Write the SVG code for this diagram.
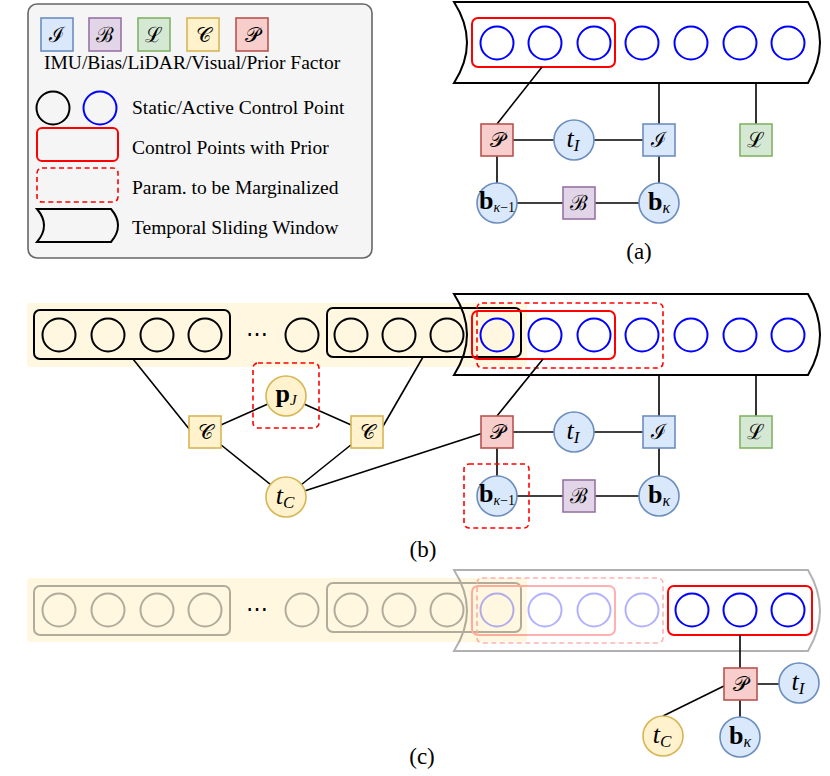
<svg xmlns="http://www.w3.org/2000/svg" width="830" height="776" viewBox="0 0 830 776">
<style>
.txt{font-family:"Liberation Serif","DejaVu Serif",serif;font-size:19.5px;fill:#000}
.math{font-family:"Liberation Serif","DejaVu Serif",serif;font-size:26px;fill:#000;text-anchor:middle}
.cal{font-family:"DejaVu Serif","Liberation Serif",serif;font-size:21px;fill:#000;text-anchor:middle}
.lab{font-family:"Liberation Serif","DejaVu Serif",serif;font-size:23px;fill:#000;text-anchor:middle}
.dots{font-family:"DejaVu Serif",serif;font-size:22px;fill:#000;text-anchor:middle}
.cb{fill:none;stroke:#000;stroke-width:2}
.ca{fill:none;stroke:#0000ff;stroke-width:2}
.prior{fill:none;stroke:#ff0000;stroke-width:2}
.marg{fill:none;stroke:#ff0000;stroke-width:1.6;stroke-dasharray:5 3.5}
.win{fill:#fff;stroke:none}
.wino{fill:none;stroke:#000;stroke-width:2}
.grp{fill:none;stroke:#000;stroke-width:2}
.band{fill:#fff2cc;opacity:0.6}
.edge{stroke:#000;stroke-width:1.6;fill:none}
.fI{fill:#dae8fc;stroke:#6c8ebf;stroke-width:1.6}
.fB{fill:#e1d5e7;stroke:#9673a6;stroke-width:1.6}
.fL{fill:#d5e8d4;stroke:#82b366;stroke-width:1.6}
.fC{fill:#fff2cc;stroke:#d6b656;stroke-width:1.6}
.fP{fill:#f8cecc;stroke:#b85450;stroke-width:1.6}
.vB{fill:#dae8fc;stroke:#6c8ebf;stroke-width:1.6}
.vY{fill:#fff2cc;stroke:#d6b656;stroke-width:1.6}
.faded{opacity:0.3}
</style>

<!-- Legend -->
<g id="legend">
  <rect x="28" y="4" width="344" height="254" rx="9" fill="#f5f5f5" stroke="#666" stroke-width="1.6"/>
  <rect class="fI" x="41" y="18" width="32" height="33"/>
  <text class="cal" x="57" y="42">ℐ</text>
  <rect class="fB" x="89" y="18" width="32" height="33"/>
  <text class="cal" x="105" y="42">ℬ</text>
  <rect class="fL" x="138" y="18" width="32" height="33"/>
  <text class="cal" x="154" y="42">ℒ</text>
  <rect class="fC" x="187" y="18" width="32" height="33"/>
  <text class="cal" x="203" y="42">𝒞</text>
  <rect class="fP" x="236" y="18" width="32" height="33"/>
  <text class="cal" x="252" y="42">𝒫</text>
  <text class="txt" x="44" y="69">IMU/Bias/LiDAR/Visual/Prior Factor</text>
  <circle class="cb" cx="53" cy="108" r="16.5"/>
  <circle class="ca" cx="100" cy="108" r="16.5"/>
  <text class="txt" x="132" y="114">Static/Active Control Point</text>
  <rect class="prior" x="37" y="128" width="81" height="33" rx="5"/>
  <text class="txt" x="132" y="154">Control Points with Prior</text>
  <rect class="marg" x="37" y="168" width="81" height="34" rx="5"/>
  <text class="txt" x="132" y="194">Param. to be Marginalized</text>
  <path class="wino" d="M37,209 L111,209 Q125,225.5 111,242 L37,242 Q51,225.5 37,209 Z"/>
  <text class="txt" x="132" y="234">Temporal Sliding Window</text>
</g>

<!-- Panel (a) window and control points -->
<g id="window-a">
  <path class="win" d="M454,2 L808,2 Q832,42.5 808,83 L454,83 Q480,42.5 454,2 Z"/>
  <path class="wino" d="M454,2 L808,2 Q832,42.5 808,83 L454,83 Q480,42.5 454,2 Z"/>
  <g id="cp-a">
    <circle class="ca" cx="497" cy="43" r="16.5"/>
    <circle class="ca" cx="545" cy="43" r="16.5"/>
    <circle class="ca" cx="594" cy="43" r="16.5"/>
    <circle class="ca" cx="642" cy="43" r="16.5"/>
    <circle class="ca" cx="691" cy="43" r="16.5"/>
    <circle class="ca" cx="740" cy="43" r="16.5"/>
    <circle class="ca" cx="788" cy="43" r="16.5"/>
  </g>
  <rect id="prior-a" class="prior" x="472" y="18" width="143" height="49" rx="6"/>
</g>

<!-- Panel (b) window, band, control points -->
<g id="window-b">
  <path class="win" d="M454,294 L808,294 Q832,334.5 808,375 L454,375 Q480,334.5 454,294 Z"/>
  <rect class="band" x="27" y="303" width="500" height="64" rx="3"/>
  <path class="wino" d="M454,294 L808,294 Q832,334.5 808,375 L454,375 Q480,334.5 454,294 Z"/>
  <rect id="static-group-1-b" class="grp" x="34" y="310" width="196" height="49" rx="6"/>
  <circle class="cb" cx="59" cy="335" r="16.5"/>
  <circle class="cb" cx="108" cy="335" r="16.5"/>
  <circle class="cb" cx="157" cy="335" r="16.5"/>
  <circle class="cb" cx="205" cy="335" r="16.5"/>
  <text class="dots" x="257" y="341">⋯</text>
  <circle class="cb" cx="302" cy="335" r="16.5"/>
  <rect id="static-group-2-b" class="grp" x="327" y="308" width="194" height="49" rx="6"/>
  <circle class="cb" cx="351" cy="335" r="16.5"/>
  <circle class="cb" cx="399" cy="335" r="16.5"/>
  <circle class="cb" cx="447" cy="335" r="16.5"/>
  <circle class="ca" cx="497" cy="335" r="16.5"/>
  <circle class="ca" cx="545" cy="335" r="16.5"/>
  <circle class="ca" cx="594" cy="335" r="16.5"/>
  <circle class="ca" cx="642" cy="335" r="16.5"/>
  <circle class="ca" cx="691" cy="335" r="16.5"/>
  <circle class="ca" cx="740" cy="335" r="16.5"/>
  <circle class="ca" cx="788" cy="335" r="16.5"/>
  <rect id="prior-b" class="prior" x="472" y="311" width="143" height="48" rx="6"/>
  <rect id="marg-b" class="marg" x="477" y="303" width="186" height="65" rx="5"/>
</g>

<!-- Panel (c) window, band, control points -->
<g id="window-c">
  <path class="win" d="M454,570 L808,570 Q832,610.5 808,651 L454,651 Q480,610.5 454,570 Z"/>
  <rect class="band" x="27" y="578" width="500" height="64" rx="3"/>
  <g class="faded">
    <path class="wino" d="M454,570 L808,570 Q832,610.5 808,651 L454,651 Q480,610.5 454,570 Z"/>
    <rect class="grp" x="34" y="586" width="196" height="49" rx="6"/>
    <circle class="cb" cx="59" cy="610" r="16.5"/>
    <circle class="cb" cx="108" cy="610" r="16.5"/>
    <circle class="cb" cx="157" cy="610" r="16.5"/>
    <circle class="cb" cx="205" cy="610" r="16.5"/>
    <circle class="cb" cx="302" cy="610" r="16.5"/>
    <rect class="grp" x="327" y="583" width="194" height="49" rx="6"/>
    <circle class="cb" cx="351" cy="610" r="16.5"/>
    <circle class="cb" cx="399" cy="610" r="16.5"/>
    <circle class="cb" cx="447" cy="610" r="16.5"/>
    <circle class="ca" cx="497" cy="610" r="16.5"/>
    <circle class="ca" cx="545" cy="610" r="16.5"/>
    <circle class="ca" cx="594" cy="610" r="16.5"/>
    <circle class="ca" cx="642" cy="610" r="16.5"/>
    <rect class="prior" x="472" y="586" width="143" height="49" rx="6"/>
    <rect class="marg" x="477" y="578" width="186" height="65" rx="5"/>
  </g>
  <text class="dots" x="257" y="616">⋯</text>
  <circle class="ca" cx="692" cy="610" r="16.5"/>
  <circle class="ca" cx="740" cy="610" r="16.5"/>
  <circle class="ca" cx="788" cy="610" r="16.5"/>
  <rect id="prior-c" class="prior" x="668" y="586" width="144" height="49" rx="6"/>
</g>

<!-- Connectors -->
<g id="connectors">
  <!-- (a) -->
  <line class="edge" x1="542" y1="67" x2="497" y2="124"/>
  <line class="edge" x1="659" y1="83" x2="659" y2="124"/>
  <line class="edge" x1="756" y1="83" x2="756" y2="124"/>
  <line class="edge" x1="497" y1="140" x2="659" y2="140"/>
  <line class="edge" x1="497" y1="140" x2="497" y2="203"/>
  <line class="edge" x1="659" y1="140" x2="659" y2="203"/>
  <line class="edge" x1="497" y1="203" x2="659" y2="203"/>
  <!-- (b) -->
  <line class="edge" x1="133" y1="359" x2="190" y2="430"/>
  <line class="edge" x1="205" y1="432" x2="286" y2="396"/>
  <line class="edge" x1="286" y1="396" x2="367" y2="432"/>
  <line class="edge" x1="423" y1="357" x2="382" y2="428"/>
  <line class="edge" x1="205" y1="432" x2="286" y2="497"/>
  <line class="edge" x1="367" y1="432" x2="286" y2="497"/>
  <line class="edge" x1="286" y1="497" x2="483" y2="433"/>
  <line class="edge" x1="543" y1="359" x2="497" y2="416"/>
  <line class="edge" x1="659" y1="375" x2="659" y2="416"/>
  <line class="edge" x1="756" y1="375" x2="756" y2="416"/>
  <line class="edge" x1="497" y1="432" x2="659" y2="432"/>
  <line class="edge" x1="497" y1="432" x2="497" y2="496"/>
  <line class="edge" x1="659" y1="432" x2="659" y2="496"/>
  <line class="edge" x1="497" y1="496" x2="659" y2="496"/>
  <!-- (c) -->
  <line class="edge" x1="740" y1="635" x2="740" y2="737"/>
  <line class="edge" x1="740" y1="684" x2="799" y2="684"/>
  <line class="edge" x1="726" y1="685" x2="663" y2="716"/>
</g>

<!-- Panel (a) nodes -->
<g id="P-a"><rect class="fP" x="481" y="124" width="32" height="32"/><text class="cal" x="497" y="147">𝒫</text></g>
<g id="tI-a"><circle class="vB" cx="574" cy="140" r="20"/><text class="math" x="573" y="147"><tspan font-style="italic">t</tspan><tspan font-style="italic" font-size="17" dy="4">I</tspan></text></g>
<g id="I-a"><rect class="fI" x="643" y="124" width="32" height="32"/><text class="cal" x="659" y="147">ℐ</text></g>
<g id="L-a"><rect class="fL" x="740" y="124" width="32" height="32"/><text class="cal" x="756" y="147">ℒ</text></g>
<g id="bk1-a"><circle class="vB" cx="497" cy="203" r="20"/><text class="math" x="497" y="209" font-size="23"><tspan font-weight="bold">b</tspan><tspan font-size="14" dy="3"><tspan font-style="italic">κ</tspan>−1</tspan></text></g>
<g id="B-a"><rect class="fB" x="563" y="187" width="32" height="32"/><text class="cal" x="579" y="210">ℬ</text></g>
<g id="bk-a"><circle class="vB" cx="659" cy="203" r="20"/><text class="math" x="659" y="210" font-size="25"><tspan font-weight="bold">b</tspan><tspan font-style="italic" font-size="16" dy="3">κ</tspan></text></g>
<text id="label-a" class="lab" x="639" y="259">(a)</text>

<!-- Panel (b) nodes -->
<g id="C1-b"><rect class="fC" x="189" y="416" width="32" height="32"/><text class="cal" x="205" y="439">𝒞</text></g>
<g id="pJ-b"><rect class="marg" x="253" y="363" width="66" height="65" rx="5"/><circle class="vY" cx="286" cy="396" r="20"/><text class="math" x="286" y="402" font-size="25"><tspan font-weight="bold">p</tspan><tspan font-style="italic" font-size="15" dy="3">J</tspan></text></g>
<g id="C2-b"><rect class="fC" x="351" y="416" width="32" height="32"/><text class="cal" x="367" y="439">𝒞</text></g>
<g id="tC-b"><circle class="vY" cx="286" cy="497" r="20"/><text class="math" x="285" y="504"><tspan font-style="italic">t</tspan><tspan font-style="italic" font-size="17" dy="4">C</tspan></text></g>
<g id="P-b"><rect class="fP" x="481" y="416" width="32" height="32"/><text class="cal" x="497" y="439">𝒫</text></g>
<g id="tI-b"><circle class="vB" cx="574" cy="432" r="20"/><text class="math" x="573" y="439"><tspan font-style="italic">t</tspan><tspan font-style="italic" font-size="17" dy="4">I</tspan></text></g>
<g id="I-b"><rect class="fI" x="643" y="416" width="32" height="32"/><text class="cal" x="659" y="439">ℐ</text></g>
<g id="L-b"><rect class="fL" x="740" y="416" width="32" height="32"/><text class="cal" x="756" y="439">ℒ</text></g>
<g id="bk1-b"><circle class="vB" cx="497" cy="496" r="20"/><text class="math" x="497" y="502" font-size="23"><tspan font-weight="bold">b</tspan><tspan font-size="14" dy="3"><tspan font-style="italic">κ</tspan>−1</tspan></text><rect class="marg" x="464" y="464" width="65" height="64" rx="5"/></g>
<g id="B-b"><rect class="fB" x="563" y="480" width="32" height="32"/><text class="cal" x="579" y="503">ℬ</text></g>
<g id="bk-b"><circle class="vB" cx="659" cy="496" r="20"/><text class="math" x="659" y="503" font-size="25"><tspan font-weight="bold">b</tspan><tspan font-style="italic" font-size="16" dy="3">κ</tspan></text></g>
<text id="label-b" class="lab" x="423" y="557">(b)</text>

<!-- Panel (c) nodes -->
<g id="P-c"><rect class="fP" x="724" y="668" width="33" height="32"/><text class="cal" x="740" y="691">𝒫</text></g>
<g id="tI-c"><circle class="vB" cx="799" cy="683" r="20"/><text class="math" x="798" y="690"><tspan font-style="italic">t</tspan><tspan font-style="italic" font-size="17" dy="4">I</tspan></text></g>
<g id="bk-c"><circle class="vB" cx="740" cy="737" r="20"/><text class="math" x="740" y="744" font-size="25"><tspan font-weight="bold">b</tspan><tspan font-style="italic" font-size="16" dy="3">κ</tspan></text></g>
<g id="tC-c"><circle class="vY" cx="663" cy="736" r="20"/><text class="math" x="662" y="743"><tspan font-style="italic">t</tspan><tspan font-style="italic" font-size="17" dy="4">C</tspan></text></g>
<text id="label-c" class="lab" x="422" y="764">(c)</text>
</svg>
